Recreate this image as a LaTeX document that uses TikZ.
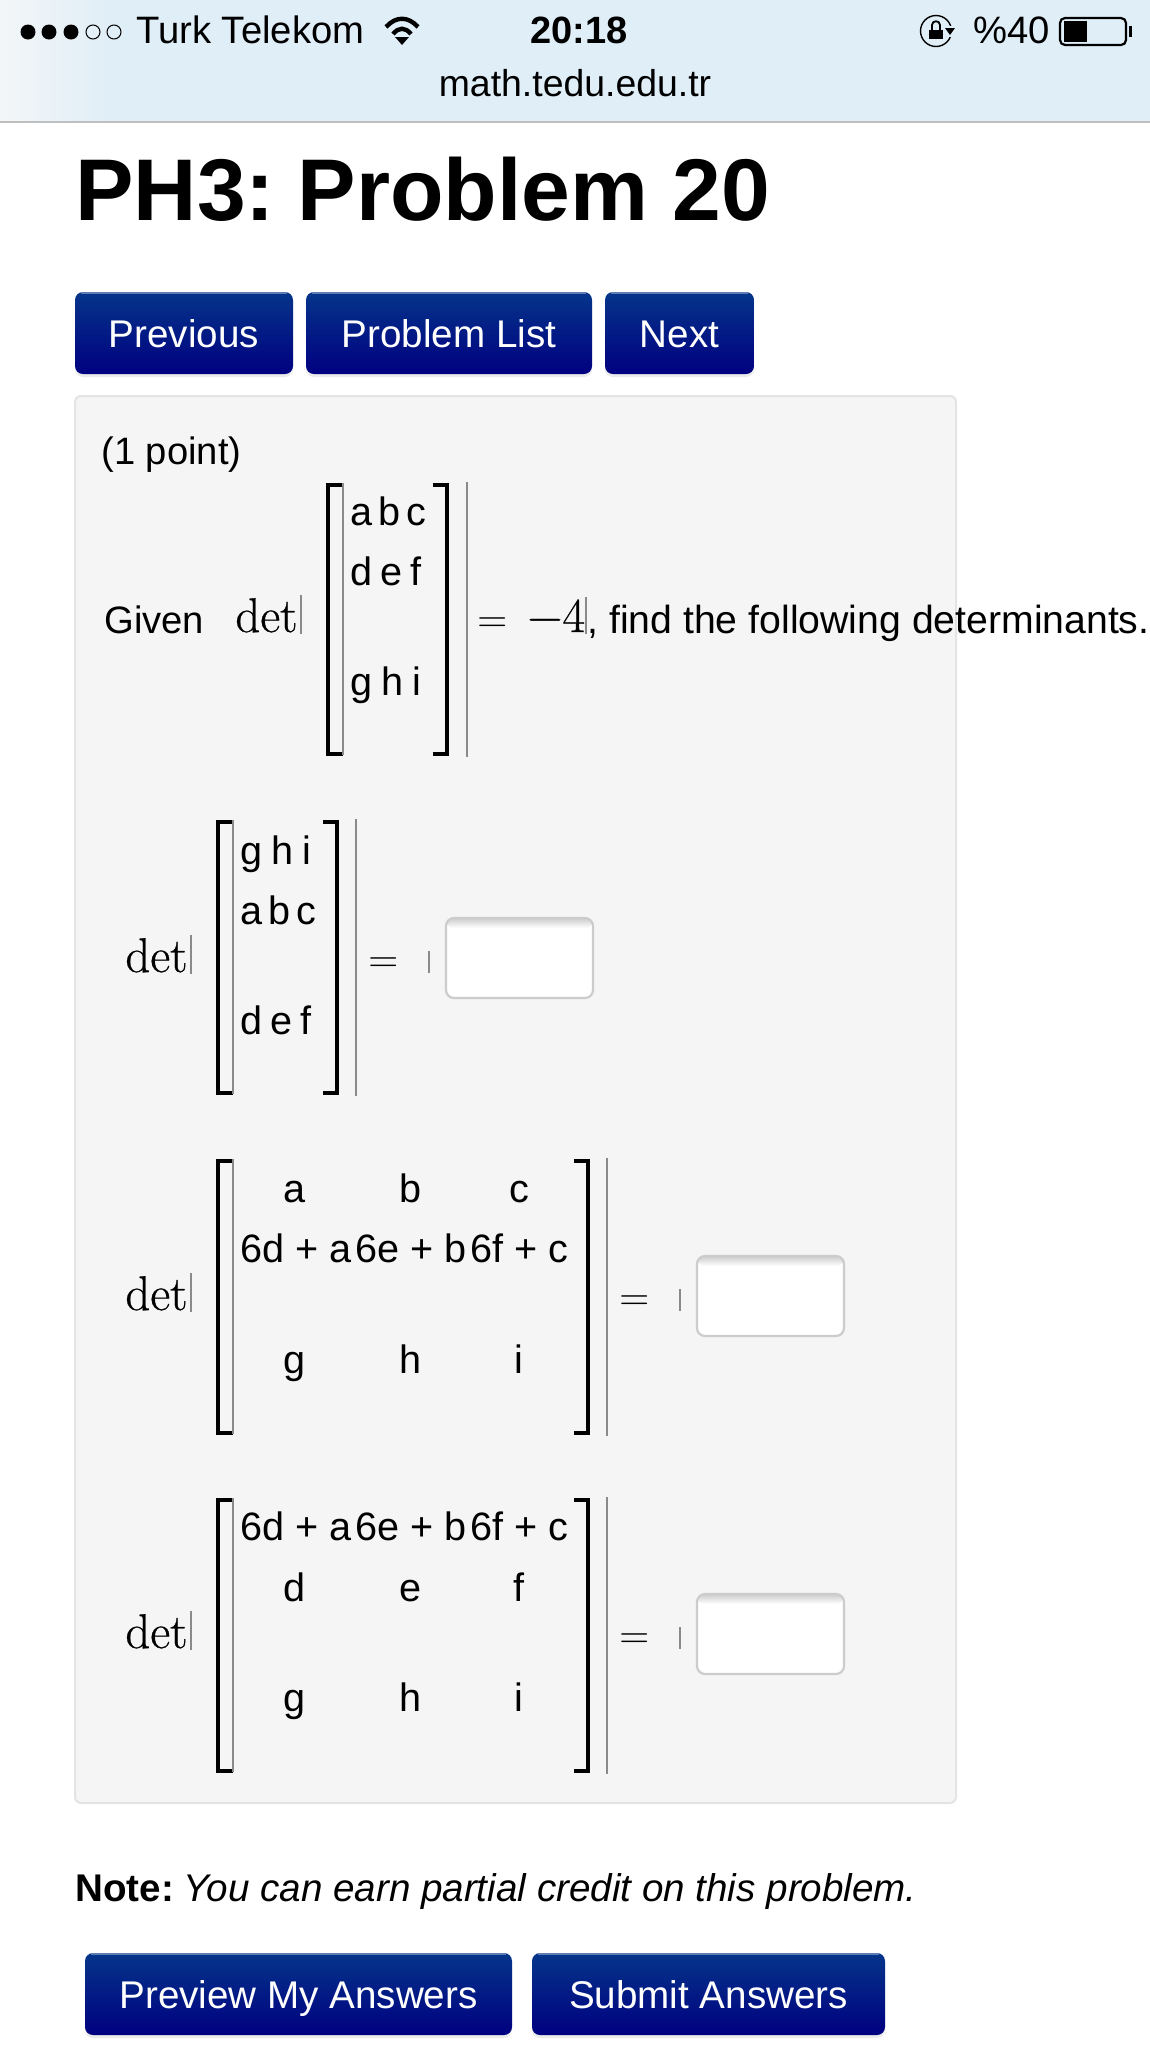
\documentclass[tikz,border=0pt]{standalone}
\usepackage{fontspec}
\newfontfamily\helv{Liberation Sans}
\newfontfamily\cmdark[FakeBold=0.6]{Latin Modern Roman}
\definecolor{barblue}{HTML}{E0EEF7}
\definecolor{barwhite}{HTML}{F3F6F8}
\definecolor{btntop}{HTML}{05358A}
\definecolor{btnbot}{HTML}{000080}
\definecolor{btnedge}{HTML}{5F7DB5}
\definecolor{panelfill}{HTML}{F5F5F5}
\definecolor{paneledge}{HTML}{E4E4E4}
\definecolor{hairgrey}{HTML}{8A8A8A}
\definecolor{boxedge}{HTML}{CCCCCC}
\tikzset{
    txt/.style={anchor=base west,inner sep=0pt,font=\helv\fontsize{19.1}{22}\selectfont},
    mtx/.style={txt,font=\helv\fontsize{19.8}{22}\selectfont},
    rmtxt/.style={anchor=base west,inner sep=0pt,font=\cmdark\fontsize{24.4}{28}\selectfont},
    eqtxt/.style={anchor=base west,inner sep=0pt,font=\rmfamily\fontsize{22.8}{26}\selectfont},
    btntext/.style={anchor=base,inner sep=0pt,text=white,font=\helv\fontsize{19.3}{22}\selectfont},
    brk/.style={line width=2pt,black,line join=miter},
    hair/.style={line width=0.6pt,hairgrey},
}
% button: name, x0, x1, y0, y1, text
\newcommand{\navybtn}[6]{
    \fill[black!8,rounded corners=4pt] (#2,#4+3) rectangle (#3,#5+3);
    \shade[top color=btntop,bottom color=btnbot,rounded corners=4pt] (#2,#4) rectangle (#3,#5);
    \draw[btnedge,line width=0.6pt] (#2+6,#4+1) -- (#3-6,#4+1);
    \node[btntext] (#1) at ({(#2+#3)/2},#4+55) {#6};
}
% bracket pair with its rules: xleft, xright, ytop, ybottom, xfar
\newcommand{\brackets}[5]{
    \draw[brk] (#1+17,#3) -- (#1+2,#3) -- (#1+2,#4) -- (#1+17,#4);
    \draw[brk] (#2-16,#3) -- (#2-2,#3) -- (#2-2,#4) -- (#2-16,#4);
    \draw[hair] (#1+17,#3-2) -- (#1+17,#4+1);
    \draw[hair] (#5,#3-3) -- (#5,#4+3);
}
% det with its small rule: name, x, baseline
\newcommand{\detlabel}[3]{
    \node[rmtxt] (#1) at (#2,#3) {det};
    \draw[hair] (#2+66,#3-37) -- (#2+66,#3+2);
}
% equals sign, tick and answer field: name, x of equals, baseline, top of field
\newcommand{\ansfield}[4]{
    \node[eqtxt] (#1eq) at (#2,#3) {$=$};
    \draw[hair] (#2+61,#3-21) -- (#2+61,#3+1);
    \fill[white,rounded corners=4pt] (#2+78,#4) rectangle (#2+225,#4+80);
    \shade[top color=black!18,bottom color=white,rounded corners=3pt] (#2+79,#4+1) rectangle (#2+224,#4+10);
    \draw[boxedge,line width=1.1pt,rounded corners=4pt] (#2+78,#4) rectangle (#2+225,#4+80);
}

\begin{document}
\begin{tikzpicture}[x=0.5pt,y=-0.5pt]
    \useasboundingbox (0,0) rectangle (1150,2046);

    % status bar
    \fill[barblue] (0,0) rectangle (1150,122);
    \shade[left color=barwhite,right color=barblue] (0,0) rectangle (110,122);
    \draw[black!25,line width=1pt] (0,122) -- (1150,122);
    \foreach \cx in {28,49,71}
        \fill[black] (\cx,32) circle[radius=7.5];
    \foreach \cx in {93,114}
        \draw[black,line width=0.5pt] (\cx,32) circle[radius=7];
    \node[txt] (carrier) at (136,43) {Turk Telekom};
    \draw[black,line width=2.2pt] (386,27) .. controls (396,16) and (408,16) .. (418,27);
    \draw[black,line width=2.2pt] (393,34) .. controls (399,27) and (405,27) .. (411,34);
    \fill[black] (395,37) -- (409,37) -- (402,45) -- cycle;
    \node[txt,anchor=base,font=\helv\bfseries\fontsize{19}{22}\selectfont] (clock) at (579,43) {20:18};
    \draw[black,line width=0.7pt] (936,31) circle[radius=15.5];
    \fill[black] (929,30) rectangle (943,39);
    \draw[black,line width=0.9pt] (932,30) -- (932,25) .. controls (932,20) and (940,20) .. (940,25) -- (940,30);
    \fill[barblue] (946,26) rectangle (956,37);
    \fill[black] (945,28) -- (955,28) -- (950,35) -- cycle;
    \node[txt] (percent) at (973,43) {\%40};
    \draw[black,line width=1.1pt,rounded corners=2.5pt] (1060,18) rectangle (1126,45);
    \fill[black] (1064,21) rectangle (1087,42);
    \fill[black] (1129,26) rectangle (1132,37);
    \node[txt,anchor=base,font=\helv\fontsize{18.7}{22}\selectfont] (url) at (575,96) {math.tedu.edu.tr};

    % heading and navigation
    \node[txt,font=\helv\bfseries\fontsize{43.8}{50}\selectfont] (title) at (75,220) {PH3:\kern11.5pt Problem 20};
    \navybtn{prev}{75}{293}{292}{374}{Previous}
    \navybtn{list}{306}{592}{292}{374}{Problem List}
    \navybtn{next}{605}{754}{292}{374}{Next}

    % problem panel
    \draw[paneledge,fill=panelfill,line width=1pt,rounded corners=3pt] (75,396) rectangle (956,1803);
    \node[txt] (point) at (101,464) {(1 point)};

    % given
    \node[txt] (given) at (104,633) {Given};
    \detlabel{det0}{235}{632}
    \brackets{326}{449}{485}{754}{467}
    \node[mtx] (abc0) at (350,525) {a\kern3pt b\kern3pt c};
    \node[mtx] (def0) at (350,585) {d\kern4pt e\kern4pt f};
    \node[mtx] (ghi0) at (350,695) {g\kern4.5pt h\kern4.5pt i};
    \node[eqtxt] (eq0) at (477,632) {$=$};
    \node[rmtxt] (val0) at (527,632) {−4};
    \draw[hair] (586,597) -- (586,634);
    \node[txt,font=\helv\fontsize{19.6}{22}\selectfont] (find) at (587,633) {, find the following determinants.};

    % first determinant
    \detlabel{det1}{125}{972}
    \brackets{216}{339}{822}{1093}{356}
    \node[mtx] (ghi1) at (240,864) {g\kern4.5pt h\kern4.5pt i};
    \node[mtx] (abc1) at (240,924) {a\kern3pt b\kern3pt c};
    \node[mtx] (def1) at (240,1034) {d\kern4pt e\kern4pt f};
    \ansfield{ans1}{368}{972}{918}

    % second determinant
    \detlabel{det2}{125}{1310}
    \brackets{216}{590}{1161}{1433}{607}
    \foreach \lbl/\cx in {a/295,b/411,c/519}
        \node[mtx,anchor=base] (top\lbl) at (\cx,1202) {\lbl};
    \node[mtx] (suma2) at (240,1262) {6d + a};
    \node[mtx] (sumb2) at (355,1262) {6e + b};
    \node[mtx] (sumc2) at (470,1262) {6f + c};
    \foreach \lbl/\cx in {g/295,h/411,i/519}
        \node[mtx,anchor=base] (low\lbl) at (\cx,1373) {\lbl};
    \ansfield{ans2}{619}{1310}{1256}

    % third determinant
    \detlabel{det3}{125}{1648}
    \brackets{216}{590}{1500}{1771}{607}
    \node[mtx] (suma3) at (240,1540) {6d + a};
    \node[mtx] (sumb3) at (355,1540) {6e + b};
    \node[mtx] (sumc3) at (470,1540) {6f + c};
    \foreach \lbl/\cx in {d/295,e/411,f/519}
        \node[mtx,anchor=base] (mid\lbl) at (\cx,1601) {\lbl};
    \foreach \lbl/\cx in {g/295,h/411,i/519}
        \node[mtx,anchor=base] (end\lbl) at (\cx,1711) {\lbl};
    \ansfield{ans3}{619}{1648}{1594}

    % note and submit buttons
    \node[txt,font=\helv\fontsize{19.3}{22}\selectfont] (note) at (75,1901) {\bfseries Note:\kern4.5pt\mdseries\itshape You can earn partial credit on this problem.};
    \navybtn{preview}{85}{512}{1953}{2035}{Preview My Answers}
    \navybtn{submit}{532}{885}{1953}{2035}{Submit Answers}
\end{tikzpicture}
\end{document}
